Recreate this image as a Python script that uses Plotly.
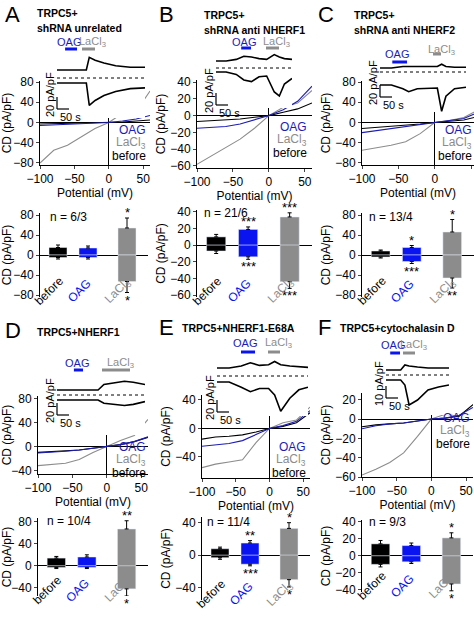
import plotly.graph_objects as go

W, H = 474, 618
BLUE = '#1c1cb4'
BARBLUE = '#0a14f0'
GRAY = '#8c8c8c'
FONT = 'Liberation Sans'

# IV curves, values at these potentials (mV)
V = [-100, -80, -60, -40, -20, 0, 20, 40, 60]
iv_before = {
    'A': [-3, -2.5, -2, -1.5, -1, 0, 1, 3, 5],
    'B': [-7, -6, -5, -4, -2, 0, 4, 8, 15],
    'C': [-12, -10, -8, -6, -3, 0, 2, 5, 12],
    'D': [-10, -9, -8, -6, -3, 0, 3, 8, 15],
    'E': [-15, -12, -11, -9, -5, 0, 3, 8, 22],
    'F': [-8, -6, -5, -4, -2, 0, 1, 3, 15],
}
iv_oag = {
    'A': [-6, -5, -4, -3, -2, 0, 3, 7, 14],
    'B': [-15, -14, -13, -10, -5, 0, 7, 17, 35],
    'C': [-20, -16, -12, -8, -4, 0, 3, 8, 20],
    'D': [-11, -10, -8, -6, -3, 0, 3, 8, 16],
    'E': [-25, -23, -21, -17, -8, 0, 4, 10, 25],
    'F': [-10, -7, -5, -4, -2, 0, 1, 4, 12],
}
iv_la = {
    'A': [-80, -55, -45, -28, -12, 0, 18, 22, 62],
    'B': [-58, -48, -38, -28, -15, 0, 10, 15, 30],
    'C': [-55, -50, -45, -38, -22, 0, 4, 10, 25],
    'D': [-32, -30, -28, -22, -10, 0, 10, 18, 45],
    'E': [-55, -50, -47, -44, -20, 0, 8, 12, 30],
    'F': [-58, -52, -45, -35, -18, 0, 5, 3, 15],
}

# summary bars: before, OAG, LaCl3 (outward mean, outward sem, inward mean, inward sem)
bar_labels = ['before', 'OAG', 'LaCl<sub>3</sub>']
bar_pos = {'A': [15, 14, 54], 'B': [10, 19, 34], 'C': [8, 15, 46],
           'D': [14, 16, 67], 'E': [8, 15, 33], 'F': [14, 12, 21]}
bar_pos_err = {'A': [5, 4, 20], 'B': [3, 3, 5], 'C': [2, 4, 25],
               'D': [3, 4, 15], 'E': [2, 3, 7], 'F': [4, 3, 6]}
bar_neg = {'A': [-5, -5, -53], 'B': [-7, -14, -44], 'C': [-4, -13, -46],
           'D': [-3, -3, -42], 'E': [-3, -11, -30], 'F': [-10, -7, -33]}
bar_neg_err = {'A': [3, 3, 22], 'B': [3, 3, 8], 'C': [2, 4, 20],
               'D': [2, 2, 13], 'E': [2, 2, 9], 'F': [3, 2, 8]}
stars_top = {'A': ['', '', '*'], 'B': ['', '***', '***'], 'C': ['', '*', '*'],
             'D': ['', '', '**'], 'E': ['', '**', '*'], 'F': ['', '', '*']}
stars_bot = {'A': ['', '', '*'], 'B': ['', '***', '***'], 'C': ['', '***', '**'],
             'D': ['', '', '*'], 'E': ['', '***', '*'], 'F': ['', '', '*']}
n_text = {'A': 'n = 6/3', 'B': 'n = 21/6', 'C': 'n = 13/4',
          'D': 'n = 10/4', 'E': 'n = 11/4', 'F': 'n = 9/3'}
titles = {'A': ['TRPC5+', 'shRNA unrelated'], 'B': ['TRPC5+', 'shRNA anti NHERF1'],
          'C': ['TRPC5+', 'shRNA anti NHERF2'], 'D': ['TRPC5+NHERF1'],
          'E': ['TRPC5+NHERF1-E68A'], 'F': ['TRPC5+cytochalasin D']}

# inset current traces (s, pA/pF)
tr_t = {
    'A': [0, 20, 40, 60, 80, 100, 110, 130, 160, 200, 250, 300],
    'B': [0, 40, 80, 110, 140, 170, 200, 230, 250, 270, 300],
    'C': [0, 40, 80, 100, 130, 170, 200, 215, 230, 260, 300],
    'D': [0, 40, 80, 120, 140, 160, 200, 230, 260, 300],
    'E': [0, 40, 80, 110, 140, 170, 190, 210, 240, 270, 300],
    'F': [0, 40, 70, 90, 110, 150, 200, 250, 300],
}
tr_up = {
    'A': [0, 0, 0, 0, 0, 0, 18, 14, 10, 6, 4, 4],
    'B': [0, 0, 2, 6, 5, 3, 2, 8, 5, 3, 2],
    'C': [0, 0, 2, 2, 1, 1, 2, 5, 2, 1, 1],
    'D': [0, 0, 0, 0, 0, 10, 13, 16, 14, 10],
    'E': [0, 0, 3, 8, 4, 5, 10, 5, 3, 2, 1],
    'F': [0, 0, 0, 5, 4, 3, 2, 2, 2],
}
tr_low = {
    'A': [0, 0, 0, 0, 0, 0, -32, -25, -18, -12, -8, -7],
    'B': [0, 0, -3, -10, -12, -6, -5, -25, -30, -15, -8],
    'C': [0, 0, -5, -9, -5, -4, -4, -35, -15, -5, -3],
    'D': [0, 0, 0, 0, 0, -6, -8, -10, -8, -3],
    'E': [0, 0, -8, -15, -10, -10, -20, -45, -25, -12, -8],
    'F': [0, 0, 0, -5, -25, -20, -10, -7, -5],
}
scale_label = {'A': '20 pA/pF', 'B': '20 pA/pF', 'C': '20 pA/pF',
               'D': '20 pA/pF', 'E': '20 pA/pF', 'F': '10 pA/pF'}

# layout per panel (pixels)
P = {
    'A': dict(letter=(3, 15), title=(35, 13), iv_px=(40, 150), iv_xr=(-100, 60), iv_py=(81, 165), iv_yr=(82, -84),
              iv_ticks=[80, 40, 0, -40, -80], bar_px=(40, 148), bar_py=(213, 297), bar_yr=(84, -84),
              bar_ticks=[80, 40, 0, -40, -80], leg=(148, 130),
              ins=(57, 145, 78, 70, 83, 0.7), sb=(57, 109), drug=((60, 77, 42, 49), (82, 95, 42, 49)), n=(48, 217)),
    'B': dict(letter=(157, 15), title=(202, 15), iv_px=(197, 312), iv_xr=(-100, 60), iv_py=(80, 168), iv_yr=(42.4, -62.4),
              iv_ticks=[40, 20, 0, -20, -40, -60], bar_px=(197, 312), bar_py=(210, 297), bar_yr=(42.4, -62.4),
              bar_ticks=[40, 20, 0, -20, -40, -60], leg=(309, 127),
              ins=(216, 292, 68, 61, 72, 0.8), sb=(216, 105), drug=((237, 251, 42, 48), (266, 279, 42, 48)), n=(202, 213)),
    'C': dict(letter=(316, 15), title=(352, 15), iv_px=(362, 474), iv_xr=(-100, 54), iv_py=(81, 165), iv_yr=(82, -84),
              iv_ticks=[80, 40, 0, -40, -80], bar_px=(362, 474), bar_py=(213, 297), bar_yr=(84, -84),
              bar_ticks=[80, 40, 0, -40, -80], leg=(474, 130),
              ins=(380, 466, 72, 68, 85, 0.75), sb=(380, 97), drug=((386, 407, 54, 62), (433, 441, 50, 54)), n=(367, 217)),
    'D': dict(letter=(3, 330), title=(35, 332), iv_px=(38, 148), iv_xr=(-100, 60), iv_py=(396, 474), iv_yr=(84, -46),
              iv_ticks=[80, 40, 0, -40], bar_px=(38, 148), bar_py=(518, 596), bar_yr=(87, -55),
              bar_ticks=[80, 40, 0, -40], leg=(148, 447),
              ins=(57, 145, 395, 390, 400, 0.55), sb=(57, 415), drug=((70, 83, 363, 370), (102, 130, 363, 370)), n=(45, 521)),
    'E': dict(letter=(157, 327), title=(180, 328), iv_px=(202, 310), iv_xr=(-100, 60), iv_py=(395, 478), iv_yr=(47, -69.5),
              iv_ticks=[40, 0, -40], bar_px=(202, 310), bar_py=(517, 600), bar_yr=(47, -55),
              bar_ticks=[40, 0, -40], leg=(308, 447),
              ins=(217, 308, 376, 368, 382, 0.65), sb=(217, 412), drug=((235, 255, 343, 352), (268, 280, 343, 352)), n=(205, 522)),
    'F': dict(letter=(316, 327), title=(338, 328), iv_px=(362, 473), iv_xr=(-100, 60), iv_py=(393, 477), iv_yr=(27, -60),
              iv_ticks=[20, 0, -20, -40, -60], bar_px=(362, 473), bar_py=(520, 592), bar_yr=(42, -42.4),
              bar_ticks=[40, 20, 0, -20, -40], leg=(472, 418),
              ins=(386, 449, 375, 370, 380, 1.0), sb=(386, 398), drug=((386, 400, 345, 353), (403, 415, 345, 353)), n=(367, 522)),
}


def fx(px):
    return px / W


def fy(py):
    return 1 - py / H


fig = go.Figure()
layout = {}
ann = []
shapes = []
ax = 0
BX = [0, 1, 2.3]


def text(x, y, s, size=11, color='black', xanchor='left', bold=False, angle=0):
    if bold:
        s = '<b>' + s + '</b>'
    ann.append(dict(x=fx(x), y=fy(y), xref='paper', yref='paper', text=s, showarrow=False,
                    xanchor=xanchor, yanchor='middle', textangle=angle,
                    font=dict(size=size, color=color, family=FONT)))


for k, p in P.items():
    # IV plot
    ax += 1
    xa, ya = ('xaxis%d' % ax, 'yaxis%d' % ax)
    ref = ('x%d' % ax, 'y%d' % ax)
    layout[xa] = dict(domain=[fx(p['iv_px'][0]), fx(p['iv_px'][1])], range=list(p['iv_xr']), anchor=ref[1],
                      tickvals=[-100, -50, 0, 50], showline=True, linecolor='black', ticks='outside', ticklen=3,
                      showgrid=False, zeroline=True, zerolinecolor='black', zerolinewidth=1, automargin=False,
                      title=dict(text='Potential (mV)', standoff=0, font=dict(size=12)), tickfont=dict(size=12))
    layout[ya] = dict(domain=[fy(p['iv_py'][1]), fy(p['iv_py'][0])], range=[p['iv_yr'][1], p['iv_yr'][0]],
                      anchor=ref[0], tickvals=p['iv_ticks'], showline=True, linecolor='black', ticks='outside',
                      ticklen=3, showgrid=False, zeroline=True, zerolinecolor='black', zerolinewidth=1.2,
                      automargin=False,
                      title=dict(text='CD (pA/pF)', standoff=2, font=dict(size=12)), tickfont=dict(size=12))
    for vals, col in [(iv_la[k], GRAY), (iv_before[k], 'black'), (iv_oag[k], BLUE)]:
        fig.add_trace(go.Scatter(x=V, y=vals, mode='lines', line=dict(color=col, width=1.1),
                                 xaxis=ref[0], yaxis=ref[1], showlegend=False))
    lx, ly = p['leg']
    text(lx, ly, 'OAG', 12, BLUE, 'right')
    text(lx, ly + 13, 'LaCl<sub>3</sub>', 12, GRAY, 'right')
    text(lx, ly + 26, 'before', 12, 'black', 'right')

    # bar plot
    ax += 1
    xa, ya = ('xaxis%d' % ax, 'yaxis%d' % ax)
    ref = ('x%d' % ax, 'y%d' % ax)
    layout[xa] = dict(domain=[fx(p['bar_px'][0]), fx(p['bar_px'][1])], range=[-0.6, 3.0], anchor=ref[1],
                      showticklabels=False, ticks='', showline=False, showgrid=False, zeroline=False,
                      automargin=False)
    layout[ya] = dict(domain=[fy(p['bar_py'][1]), fy(p['bar_py'][0])], range=[p['bar_yr'][1], p['bar_yr'][0]],
                      anchor=ref[0], tickvals=p['bar_ticks'], showline=True, linecolor='black', ticks='outside',
                      ticklen=3, showgrid=False, zeroline=True, zerolinecolor='black', zerolinewidth=1.2,
                      automargin=False,
                      title=dict(text='CD (pA/pF)', standoff=2, font=dict(size=12)), tickfont=dict(size=12))
    cols = ['black', BARBLUE, GRAY]
    fig.add_trace(go.Bar(x=BX, y=bar_pos[k], width=[0.6, 0.6, 0.6], marker_color=cols,
                         error_y=dict(type='data', symmetric=False, array=bar_pos_err[k], arrayminus=[0, 0, 0],
                                      color='black', thickness=1, width=2),
                         xaxis=ref[0], yaxis=ref[1], showlegend=False))
    fig.add_trace(go.Bar(x=BX, y=bar_neg[k], width=[0.6, 0.6, 0.6], marker_color=cols,
                         error_y=dict(type='data', symmetric=False, array=[0, 0, 0], arrayminus=bar_neg_err[k],
                                      color='black', thickness=1, width=2),
                         xaxis=ref[0], yaxis=ref[1], showlegend=False))
    for i in range(3):
        ann.append(dict(x=BX[i], y=fy(p['bar_py'][1] - 6), xref=ref[0], yref='paper', text=bar_labels[i],
                        showarrow=False, textangle=-45, xshift=-9, xanchor='center', yanchor='middle',
                        font=dict(size=12, family=FONT, color=cols[i])))
        if stars_top[k][i]:
            ann.append(dict(x=BX[i], y=bar_pos[k][i] + bar_pos_err[k][i], xref=ref[0], yref=ref[1],
                            text=stars_top[k][i], showarrow=False, yanchor='bottom', yshift=-4,
                            font=dict(size=13, family=FONT)))
        if stars_bot[k][i]:
            ann.append(dict(x=BX[i], y=bar_neg[k][i] - bar_neg_err[k][i], xref=ref[0], yref=ref[1],
                            text=stars_bot[k][i], showarrow=False, yanchor='top', yshift=2,
                            font=dict(size=13, family=FONT)))
    text(p['n'][0], p['n'][1], n_text[k], 12)

    # inset traces
    ax += 1
    xa, ya = ('xaxis%d' % ax, 'yaxis%d' % ax)
    ref = ('x%d' % ax, 'y%d' % ax)
    x0, x1, dash, ub, lb, s = p['ins']
    top, bot = dash - 30, dash + 40
    layout[xa] = dict(domain=[fx(x0), fx(x1)], range=[0, 300], anchor=ref[1], visible=False, automargin=False)
    layout[ya] = dict(domain=[fy(bot), fy(top)], range=[-(bot - dash) / s, (dash - top) / s],
                      anchor=ref[0], visible=False, automargin=False)
    uo, lo = (dash - ub) / s, (dash - lb) / s
    fig.add_trace(go.Scatter(x=tr_t[k], y=[v + uo for v in tr_up[k]], mode='lines',
                             line=dict(color='black', width=1.6), xaxis=ref[0], yaxis=ref[1], showlegend=False))
    fig.add_trace(go.Scatter(x=tr_t[k], y=[v + lo for v in tr_low[k]], mode='lines',
                             line=dict(color='black', width=1.6), xaxis=ref[0], yaxis=ref[1], showlegend=False))
    shapes.append(dict(type='line', xref='paper', yref='paper', x0=fx(x0), x1=fx(x1), y0=fy(dash), y1=fy(dash),
                       line=dict(color='black', width=1, dash='dot')))
    # scale bar
    sx, sy = p['sb']
    shapes.append(dict(type='line', xref='paper', yref='paper', x0=fx(sx), x1=fx(sx), y0=fy(sy), y1=fy(sy - 12),
                       line=dict(color='black', width=1.2)))
    shapes.append(dict(type='line', xref='paper', yref='paper', x0=fx(sx), x1=fx(sx + 12), y0=fy(sy), y1=fy(sy),
                       line=dict(color='black', width=1.2)))
    text(sx + 1, sy + 8, '50 s', 11)
    text(sx - 7, sy - 14, scale_label[k], 11, angle=-90, xanchor='center')
    # drug application bars
    (a0, a1, at, ab), (b0, b1, bt, bb) = p['drug']
    shapes.append(dict(type='line', xref='paper', yref='paper', x0=fx(a0 + (a1 - a0) * 0.3), x1=fx(a1),
                       y0=fy(ab), y1=fy(ab), line=dict(color=BARBLUE, width=3)))
    shapes.append(dict(type='line', xref='paper', yref='paper', x0=fx(b0), x1=fx(b1),
                       y0=fy(bb), y1=fy(bb), line=dict(color=GRAY, width=3)))
    text((a0 + a1) / 2, at, 'OAG', 11, BLUE, 'center')
    text((b0 + b1) / 2 + 4, bt, 'LaCl<sub>3</sub>', 11, GRAY, 'center')

    # titles
    text(p['letter'][0], p['letter'][1], k, 22)
    for i, line in enumerate(titles[k]):
        text(p['title'][0], p['title'][1] + 15 * i, line, 10.5, bold=True)

fig.update_layout(**layout)
fig.update_layout(width=W, height=H, margin=dict(l=0, r=0, t=0, b=0), barmode='overlay',
                  plot_bgcolor='white', paper_bgcolor='white', annotations=ann, shapes=shapes,
                  font=dict(family=FONT, color='black', size=12))
fig.write_html("out.html", config={'displayModeBar': False},
               post_script="document.body.style.margin='0';")
